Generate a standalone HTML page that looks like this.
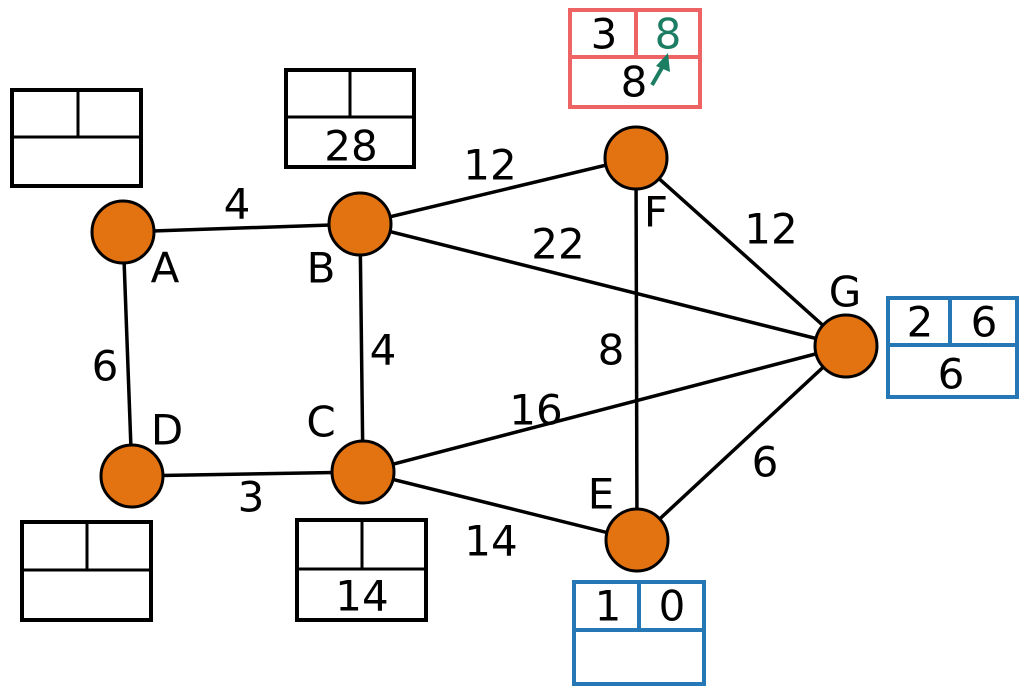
<!DOCTYPE html>
<html><head><meta charset="utf-8"><style>html,body{margin:0;padding:0;background:#fff}svg{display:block}text{font-family:"DejaVu Sans","Liberation Sans",sans-serif;font-size:42px;fill:#000;text-anchor:middle;dominant-baseline:central}</style></head>
<body>
<svg width="1034" height="695" viewBox="0 0 1034 695" xmlns="http://www.w3.org/2000/svg">
<g stroke="#000" stroke-width="3.5">
<line x1="123" y1="232" x2="360" y2="224"/>
<line x1="123" y1="232" x2="132" y2="476"/>
<line x1="132" y1="476" x2="363" y2="472"/>
<line x1="360" y1="224" x2="363" y2="472"/>
<line x1="360" y1="224" x2="636" y2="158"/>
<line x1="360" y1="224" x2="846" y2="346"/>
<line x1="636" y1="158" x2="846" y2="346"/>
<line x1="636" y1="158" x2="637" y2="540"/>
<line x1="363" y1="472" x2="846" y2="346"/>
<line x1="363" y1="472" x2="637" y2="540"/>
<line x1="637" y1="540" x2="846" y2="346"/>
</g>
<g fill="#E37310" stroke="#000" stroke-width="3">
<circle cx="123" cy="232" r="31"/><circle cx="360" cy="224" r="31"/><circle cx="636" cy="158" r="31"/>
<circle cx="846" cy="346" r="31"/><circle cx="132" cy="476" r="31"/><circle cx="363" cy="472" r="31"/><circle cx="637" cy="540" r="31"/>
</g>
<g fill="none" stroke-width="4">
<g stroke="#000">
<rect x="12" y="90" width="129" height="96"/><path d="M12 137H141M78 90V137" stroke-width="3"/>
<rect x="286" y="70" width="128" height="97"/><path d="M286 117H414M350 70V117" stroke-width="3"/>
<rect x="22" y="522" width="129" height="98"/><path d="M22 570H151M87 522V570" stroke-width="3"/>
<rect x="297" y="520" width="129" height="100"/><path d="M297 569H426M362 520V569" stroke-width="3"/>
</g>
<g stroke="#EE6464">
<rect x="570" y="10" width="130" height="97"/><path d="M570 57H700M636 10V57"/>
</g>
<g stroke="#2677B6">
<rect x="888" y="298" width="129" height="99"/><path d="M888 345H1017M950 298V345"/>
<rect x="574" y="582" width="130" height="102"/><path d="M574 630H704M639 582V630"/>
</g>
</g>
<text x="351" y="146">28</text>
<text x="604" y="34">3</text><text x="668" y="34" style="fill:#1B7D62">8</text><text x="634" y="82">8</text>
<path d="M652 85L663 66" stroke="#1B7D62" stroke-width="4"/><path d="M668 53L670 72L656 66Z" fill="#1B7D62"/>
<text x="920" y="322">2</text><text x="984" y="322">6</text><text x="951" y="374">6</text>
<text x="362" y="596">14</text>
<text x="608" y="606">1</text><text x="672" y="606">0</text>
<text x="165" y="268">A</text><text x="321" y="268">B</text><text x="656" y="212">F</text><text x="845" y="292">G</text>
<text x="167" y="430">D</text><text x="321" y="422">C</text><text x="601" y="494">E</text>
<text x="237" y="204">4</text><text x="490" y="165">12</text><text x="558" y="244">22</text><text x="771" y="229">12</text>
<text x="105" y="366">6</text><text x="383" y="350">4</text><text x="611" y="350">8</text><text x="536" y="410">16</text>
<text x="251" y="497">3</text><text x="491" y="541">14</text><text x="765" y="462">6</text>
</svg>
</body></html>
